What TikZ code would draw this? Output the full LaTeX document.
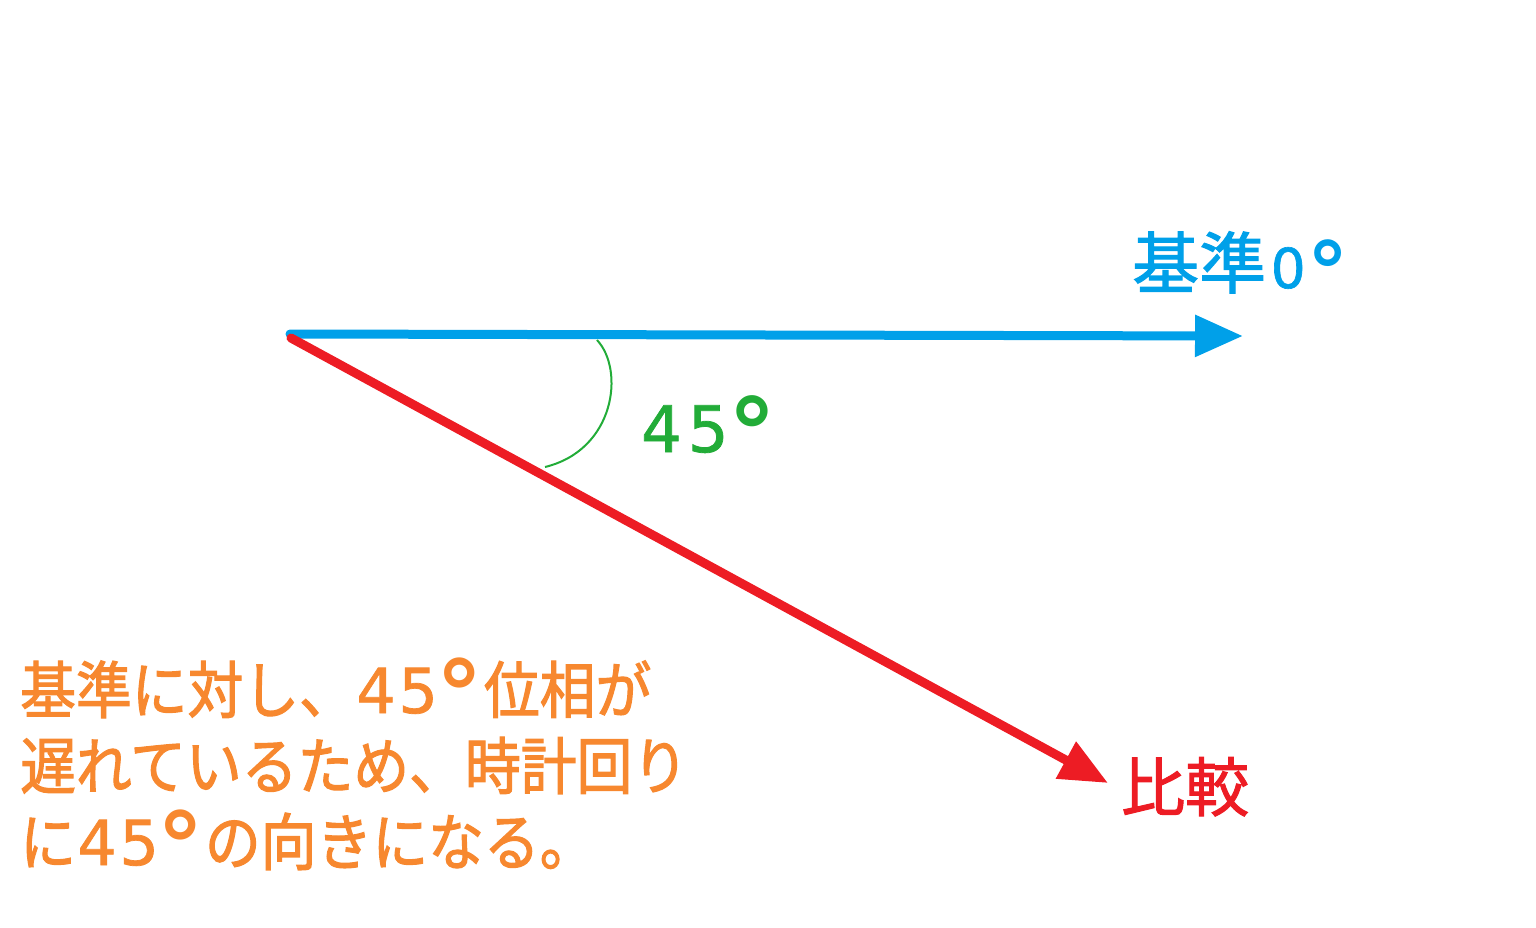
\documentclass[tikz,border=0pt]{standalone}
\usepackage{fontspec}
\setmainfont{Noto Sans CJK JP}[FakeBold=1.6]
\newfontfamily\jpnarrow{Noto Sans CJK JP}[FakeBold=1.8,FakeStretch=0.9]
\newfontfamily\digfont{DejaVu Sans}[FakeBold=1.2]
\newfontfamily\degfont{DejaVu Sans}
\usetikzlibrary{arrows.meta}
\definecolor{refblue}{HTML}{00A0E9}
\definecolor{refred}{HTML}{ED1C24}
\definecolor{refgreen}{HTML}{22AC38}
\definecolor{reforange}{HTML}{F7882F}
\newcommand\dgt[2][0.7em]{\makebox[#1]{\digfont #2}}
\newcommand\bdeg{\hspace{-0.05em}\raisebox{-0.24em}[0pt][0pt]{\scalebox{1.5}{\degfont\bfseries °}}\hspace{0.02em}}
\begin{document}
\begin{tikzpicture}[x=1pt,y=-1pt,
  vec/.style={line width=9pt,line cap=round,-{Triangle[length=48pt,width=40pt]}},
  lbl/.style={inner sep=0pt,anchor=base west}]
\useasboundingbox (0,0) rectangle (1536,928);
\coordinate (o1) at (290,334);
\coordinate (o2) at (291,338);
\coordinate (tb) at (1243,336);
\coordinate (tr) at (1108,783);
\draw[vec,refblue] (o1) -- (tb);
\draw[vec,refred] (o2) -- (tr);
\coordinate (a1) at (597,340);
\coordinate (a2) at (545,467);
\draw[refgreen,line width=2pt] (a1) .. controls (625,370) and (615,450) .. (a2);
\node[lbl,text=refblue,font=\fontsize{67}{70}\selectfont] (ref) at (1132,288)
  {基準{\fontsize{55}{60}\selectfont\dgt[0.8em]{0}\bdeg}};
\node[lbl,text=refgreen,font=\fontsize{64}{70}\selectfont] (ang) at (638,452)
  {\dgt[0.73em]{4}\dgt[0.73em]{5}\bdeg};
\node[lbl,text=refred,font=\fontsize{64}{70}\selectfont] (cmp) at (1121,811) {比較};
\node[lbl,anchor=base west,align=left,text=reforange,
  font=\jpnarrow\fontsize{62}{76}\selectfont] (note) at (20,865)
  {基準に対し、\dgt[0.68em]{4}\dgt[0.68em]{5}\bdeg 位相が\\遅れているため、時計回り\\に\dgt[0.68em]{4}\dgt[0.68em]{5}\bdeg の向きになる。};
\end{tikzpicture}
\end{document}
